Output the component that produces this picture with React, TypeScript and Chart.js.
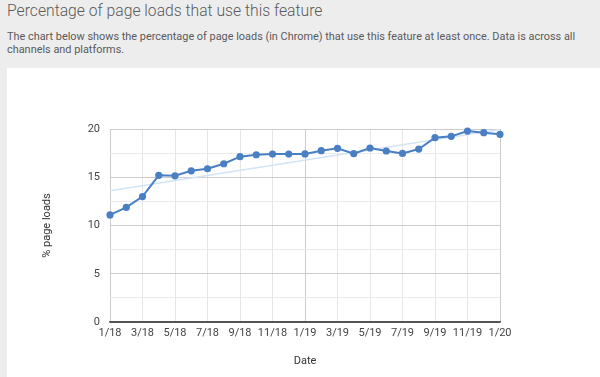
import React, { useEffect, useRef } from "react";
import { Chart, registerables } from "chart.js";

Chart.register(...registerables);

const months = [
  "1/18", "2/18", "3/18", "4/18", "5/18", "6/18", "7/18", "8/18", "9/18", "10/18", "11/18", "12/18",
  "1/19", "2/19", "3/19", "4/19", "5/19", "6/19", "7/19", "8/19", "9/19", "10/19", "11/19", "12/19",
  "1/20",
];

const pageLoads = [
  11.1, 11.87, 13.0, 15.2, 15.15, 15.67, 15.88, 16.4, 17.13, 17.33, 17.4, 17.4,
  17.42, 17.75, 18.0, 17.44, 18.03, 17.72, 17.47, 17.92, 19.1, 19.24, 19.79, 19.62,
  19.45,
];

// trendline endpoints (first month, last month)
const trendEnds = [13.6, 19.95];

const yTicks = [0, 5, 10, 15, 20];

const TITLE = "Percentage of page loads that use this feature";
const DESCRIPTION =
  "The chart below shows the percentage of page loads (in Chrome) that use this feature at least once. Data is across all channels and platforms.";

export default function App() {
  const canvasRef = useRef<HTMLCanvasElement | null>(null);

  useEffect(() => {
    const canvas = canvasRef.current;
    if (!canvas) return;
    const trend = months.map((_, i) =>
      i === 0 ? trendEnds[0] : i === months.length - 1 ? trendEnds[1] : null
    );
    const font = { family: "Roboto", size: 11 };
    const chart = new Chart(canvas, {
      type: "line",
      data: {
        labels: months,
        datasets: [
          {
            label: "% page loads",
            data: pageLoads,
            borderColor: "#4a7fc3",
            backgroundColor: "#4a7fc3",
            borderWidth: 2,
            pointRadius: 2.6,
            pointHoverRadius: 2.6,
            tension: 0,
            clip: false as any,
          },
          {
            label: "trend",
            data: trend,
            borderColor: "#d3e4f5",
            borderWidth: 1.5,
            pointRadius: 0,
            spanGaps: true,
            tension: 0,
          },
        ],
      },
      options: {
        responsive: false,
        animation: false,
        devicePixelRatio: 1,
        layout: { padding: { top: 129, right: 100, left: 0, bottom: 0 } },
        plugins: { legend: { display: false }, tooltip: { enabled: false } },
        scales: {
          x: {
            offset: false,
            grid: {
              drawTicks: false,
              color: (ctx: any) => {
                const i = ctx.index;
                if (i % 2 !== 0) return "rgba(0,0,0,0)";
                return i % 12 === 0 ? "#cccccc" : "#e6e6e6";
              },
            },
            border: { display: true, color: "#555555", width: 1.5 },
            ticks: {
              autoSkip: false,
              maxRotation: 0,
              minRotation: 0,
              padding: 5,
              color: "#444444",
              font,
              callback: (_v: any, i: number) => (i % 2 === 0 ? months[i] : ""),
            },
            title: {
              display: true,
              text: "Date",
              color: "#333333",
              font,
              padding: { top: 0, bottom: 9.5 },
            },
            afterFit: (s: any) => {
              s.height = 55;
            },
          },
          y: {
            min: 0,
            max: 20,
            grid: {
              drawTicks: false,
              color: (ctx: any) => {
                const v = ctx.tick ? ctx.tick.value : 0;
                if (v === 0) return "#555555";
                return v % 5 === 0 ? "#cccccc" : "#ebebeb";
              },
            },
            border: { display: false },
            ticks: {
              stepSize: 2.5,
              padding: 10,
              color: "#444444",
              font,
              callback: (v: any) => (yTicks.includes(Number(v)) ? String(v) : ""),
            },
            title: {
              display: true,
              text: "% page loads",
              color: "#333333",
              font,
              padding: { top: 40.5, bottom: 0 },
            },
            afterFit: (s: any) => {
              s.width = 110;
            },
          },
        },
      },
    });
    return () => chart.destroy();
  }, []);

  return (
    <div
      style={{
        position: "absolute",
        left: 0,
        top: 0,
        width: 600,
        height: 377,
        overflow: "hidden",
        background: "#ededed",
        fontFamily: "Roboto, sans-serif",
      }}
    >
      <div
        style={{
          position: "absolute",
          left: 7,
          top: 1,
          fontSize: 15.7,
          fontWeight: 300,
          color: "#5a5a5a",
          lineHeight: "20px",
          whiteSpace: "nowrap",
        }}
      >
        {TITLE}
      </div>
      <div
        style={{
          position: "absolute",
          left: 7,
          top: 30,
          width: 585,
          fontSize: 10.9,
          color: "#5a5a5a",
          lineHeight: "13px",
        }}
      >
        {DESCRIPTION}
      </div>
      <div
        style={{
          position: "absolute",
          left: 7,
          top: 68,
          right: 0,
          bottom: 0,
          background: "#ffffff",
        }}
      />
      <canvas
        ref={canvasRef}
        width={600}
        height={377}
        style={{ position: "absolute", left: 0, top: 0, width: 600, height: 377 }}
      />
    </div>
  );
}
